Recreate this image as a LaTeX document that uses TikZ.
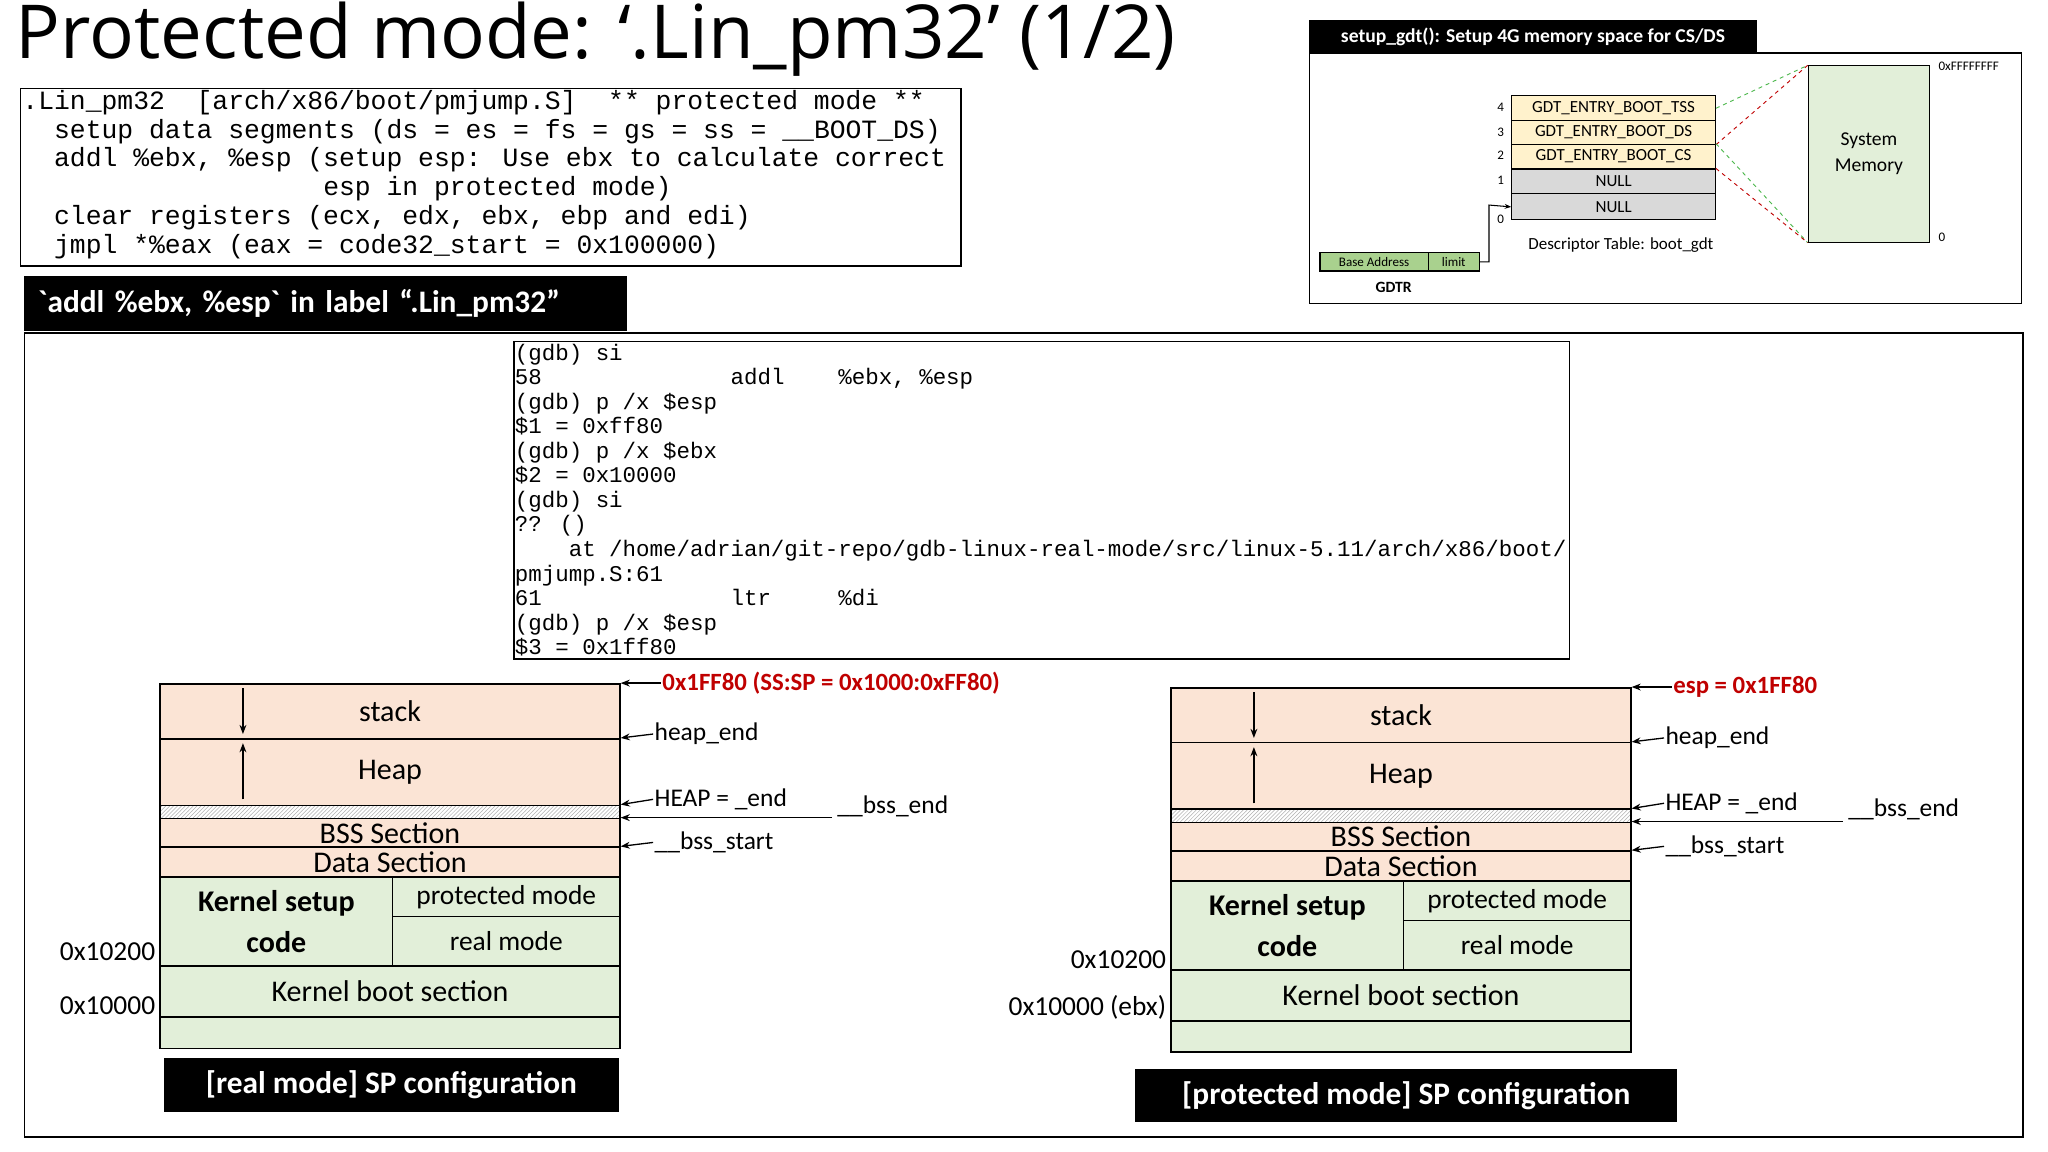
\documentclass[tikz,border=0pt]{standalone}
\usepackage{fontspec}
\setmainfont{Carlito}
\newfontfamily\mono{Liberation Mono}
\newfontfamily\ttl{Open Sans}
\usetikzlibrary{patterns,arrows.meta}
\definecolor{peach}{RGB}{251,228,213}
\definecolor{mgreen}{RGB}{226,239,217}
\definecolor{gyel}{RGB}{255,242,204}
\definecolor{ggray}{RGB}{217,217,217}
\definecolor{ggreen}{RGB}{169,209,142}
\definecolor{dred}{RGB}{192,0,0}
\tikzset{
 mem/.style={draw,line width=1.2pt,anchor=north west,minimum width=352pt,inner sep=0pt,font=\fontsize{23}{24}\selectfont},
 lab/.style={font=\fontsize{19.5}{21}\selectfont,anchor=west,inner sep=1pt},
 ptr/.style={-{Stealth[length=7pt]},line width=1pt},
 tab/.style={fill=black,text=white,inner sep=0pt,font=\bfseries\fontsize{24}{26}\selectfont},
 gdt/.style={draw,line width=0.8pt,minimum width=156pt,inner sep=0pt,anchor=north west,font=\fontsize{13}{14}\selectfont},
 pics/memdiag/.style={code={
  \node[mem,fill=peach,minimum height=42pt] (-stack) at (0,0) {stack};
  \node[mem,fill=peach,minimum height=51pt] (-heap) at (0,42) {Heap};
  \node[mem,pattern=north east lines,pattern color=gray!60,minimum height=10pt] (-hatch) at (0,93) {};
  \node[mem,fill=peach,minimum height=22pt] (-bss) at (0,103) {BSS Section};
  \node[mem,fill=peach,minimum height=23pt] (-data) at (0,125) {Data Section};
  \node[mem,fill=mgreen,minimum width=178pt,minimum height=68pt,align=center,font=\bfseries\fontsize{23}{31}\selectfont] (-ks) at (0,148) {Kernel setup\\code};
  \node[mem,fill=mgreen,minimum width=174pt,minimum height=30pt,font=\fontsize{21}{22}\selectfont] (-pm) at (178,148) {protected mode};
  \node[mem,fill=mgreen,minimum width=174pt,minimum height=38pt,font=\fontsize{21}{22}\selectfont] (-rm) at (178,178) {real mode};
  \node[mem,fill=mgreen,minimum height=39pt] (-kb) at (0,216) {Kernel boot section};
  \node[mem,fill=mgreen,minimum height=24pt] (-em) at (0,255) {};
  \coordinate (-a1) at (64,4); \coordinate (-a2) at (64,39);
  \coordinate (-b1) at (64,89); \coordinate (-b2) at (64,46);
  \draw[ptr] (-a1) -- (-a2); \draw[ptr] (-b1) -- (-b2);
 }}
}
\begin{document}
\begin{tikzpicture}[x=1pt,y=-1pt]
\useasboundingbox (0,0) rectangle (1568,882);
\fill[white] (0,0) rectangle (1568,882);
\node[anchor=west,inner sep=0pt,font=\ttl\fontsize{57}{60}\selectfont] (title) at (12,30) {Protected mode: ‘.Lin\_pm32’ (1/2)};
% code box
\node[draw,line width=1.2pt,anchor=north west,minimum width=720pt,minimum height=136pt,inner sep=0pt] (codebox) at (15,67) {};
\node[anchor=north west,inner sep=0pt,align=left,font=\mono\fontsize{20.2}{22}\selectfont] (code) at (17,69) {.Lin\_pm32\ \ [arch/x86/boot/pmjump.S]\ \ **\ protected mode **\\
\ \ setup data segments (ds = es = fs = gs = ss = \_\_BOOT\_DS)\\
\ \ addl \%ebx, \%esp (setup esp: Use ebx to calculate correct\\
\ \ \ \ \ \ \ \ \ \ \ \ \ \ \ \ \ \ \ esp in protected mode)\\
\ \ clear registers (ecx, edx, ebx, ebp and edi)\\
\ \ jmpl *\%eax (eax = code32\_start = 0x100000)};
% main frame
\node[draw,line width=1.5pt,anchor=north west,minimum width=1530pt,minimum height=616pt,inner sep=0pt] (frame) at (18,254) {};
\node[tab,anchor=north west,minimum width=462pt,minimum height=42pt,text width=440pt,align=left] (tab1) at (18,211) {\textasciigrave addl \%ebx, \%esp\textasciigrave\ in label “.Lin\_pm32”};
% gdb box
\node[draw,line width=1.2pt,anchor=north west,minimum width=808pt,minimum height=243pt,inner sep=0pt] (gdbbox) at (393,261) {};
\node[anchor=north west,inner sep=0pt,align=left,font=\mono\fontsize{17.2}{18.8}\selectfont] (gdb) at (394,263) {(gdb) si\\
58\ \ \ \ \ \ \ \ \ \ \ \ \ \ addl\ \ \ \ \%ebx, \%esp\\
(gdb) p /x \$esp\\
\$1 = 0xff80\\
(gdb) p /x \$ebx\\
\$2 = 0x10000\\
(gdb) si\\
?? ()\\
\ \ \ \ at /home/adrian/git-repo/gdb-linux-real-mode/src/linux-5.11/arch/x86/boot/\\
pmjump.S:61\\
61\ \ \ \ \ \ \ \ \ \ \ \ \ \ ltr\ \ \ \ \ \%di\\
(gdb) p /x \$esp\\
\$3 = 0x1ff80};
% memory diagrams
\pic (L) at (122,523) {memdiag};
\pic (R) at (896,526) {memdiag};
% left labels
\node[lab,text=dred,font=\bfseries\fontsize{19}{21}\selectfont] (l1) at (506,523) {0x1FF80 (SS:SP = 0x1000:0xFF80)};
\node[lab] (l2) at (500,562) {heap\_end};
\node[lab] (l3) at (500,612) {HEAP = \_end};
\node[lab] (l4) at (640,617) {\_\_bss\_end};
\node[lab] (l5) at (500,645) {\_\_bss\_start};
\coordinate (l4e) at (637,626);
\draw[ptr] (l1.west) -- (L-stack.north east);
\draw[ptr] (l2.west) -- (L-heap.north east);
\draw[ptr] (l3.west) -- (L-hatch.north east);
\draw[ptr] (l4e) -- (L-bss.north east);
\draw[ptr] (l5.west) -- (L-data.north east);
\node[lab,font=\fontsize{21}{22}\selectfont,anchor=east] (la1) at (120,729) {0x10200};
\node[lab,font=\fontsize{21}{22}\selectfont,anchor=east] (la2) at (120,770) {0x10000};
\node[tab,anchor=north west,minimum width=349pt,minimum height=41pt] (cap1) at (125,810) {[real mode] SP configuration};
% right labels
\node[lab,text=dred,font=\bfseries\fontsize{19}{21}\selectfont] (r1) at (1280,526) {esp = 0x1FF80};
\node[lab] (r2) at (1274,565) {heap\_end};
\node[lab] (r3) at (1274,615) {HEAP = \_end};
\node[lab] (r4) at (1414,620) {\_\_bss\_end};
\node[lab] (r5) at (1274,648) {\_\_bss\_start};
\coordinate (r4e) at (1411,629);
\draw[ptr] (r1.west) -- (R-stack.north east);
\draw[ptr] (r2.west) -- (R-heap.north east);
\draw[ptr] (r3.west) -- (R-hatch.north east);
\draw[ptr] (r4e) -- (R-bss.north east);
\draw[ptr] (r5.west) -- (R-data.north east);
\node[lab,font=\fontsize{21}{22}\selectfont,anchor=east] (ra1) at (894,735) {0x10200};
\node[lab,font=\fontsize{21}{22}\selectfont,anchor=east] (ra2) at (894,771) {0x10000 (ebx)};
\node[tab,anchor=north west,minimum width=415pt,minimum height=41pt] (cap2) at (869,818) {[protected mode] SP configuration};
% GDT panel
\node[draw,line width=1pt,anchor=north west,minimum width=545pt,minimum height=192pt,inner sep=0pt] (gframe) at (1002,40) {};
\node[tab,anchor=north west,minimum width=343pt,minimum height=26pt,font=\bfseries\fontsize{15}{16}\selectfont] (gtab) at (1002,15) {setup\_gdt(): Setup 4G memory space for CS/DS};
\node[gdt,fill=gyel,minimum height=19pt] (g4) at (1157,73) {GDT\_ENTRY\_BOOT\_TSS};
\node[gdt,fill=gyel,minimum height=18pt] (g3) at (1157,92) {GDT\_ENTRY\_BOOT\_DS};
\node[gdt,fill=gyel,minimum height=19pt] (g2) at (1157,110) {GDT\_ENTRY\_BOOT\_CS};
\node[gdt,fill=ggray,minimum height=19pt] (g1) at (1157,129) {NULL};
\node[gdt,fill=ggray,minimum height=20pt] (g0) at (1157,148) {NULL};
\foreach \n/\y in {4/82,3/101,2/119,1/138,0/168}{\node[font=\fontsize{10}{11}\selectfont,inner sep=0pt] (gn\n) at (1149,\y) {\n};}
\node[font=\fontsize{13}{14}\selectfont] (gcap) at (1241,188) {Descriptor Table: boot\_gdt};
\node[draw,line width=0.8pt,fill=mgreen,anchor=north west,minimum width=93pt,minimum height=135pt,align=center,inner sep=0pt,font=\fontsize{15}{20}\selectfont] (sysmem) at (1384,50) {System\\Memory};
\node[anchor=west,font=\fontsize{10}{11}\selectfont,inner sep=0pt] (ffff) at (1484,51) {0xFFFFFFFF};
\node[anchor=west,font=\fontsize{10}{11}\selectfont,inner sep=0pt] (zero) at (1484,182) {0};
\node[draw,line width=1pt,fill=ggreen,anchor=north west,minimum width=83pt,minimum height=14pt,inner sep=0pt,font=\fontsize{10}{11}\selectfont] (base) at (1010,193) {Base Address};
\node[draw,line width=1pt,fill=ggreen,anchor=north west,minimum width=39pt,minimum height=14pt,inner sep=0pt,font=\fontsize{10}{11}\selectfont] (limit) at (1093,193) {limit};
\node[font=\bfseries\fontsize{12}{13}\selectfont] (gdtr) at (1067,220) {GDTR};
\draw[-{Stealth[length=5pt]},line width=0.8pt] (limit.east) -| (1140,157) -- (g0.west);
\draw[dashed,green!60!black!70,line width=0.7pt] (g4.east) -- (sysmem.north west);
\draw[dashed,dred,line width=0.7pt] (g3.south east) -- (sysmem.north west);
\draw[dashed,green!60!black!70,line width=0.7pt] (g2.north east) -- (sysmem.south west);
\draw[dashed,dred,line width=0.7pt] (g1.north east) -- (sysmem.south west);
\end{tikzpicture}
\end{document}
